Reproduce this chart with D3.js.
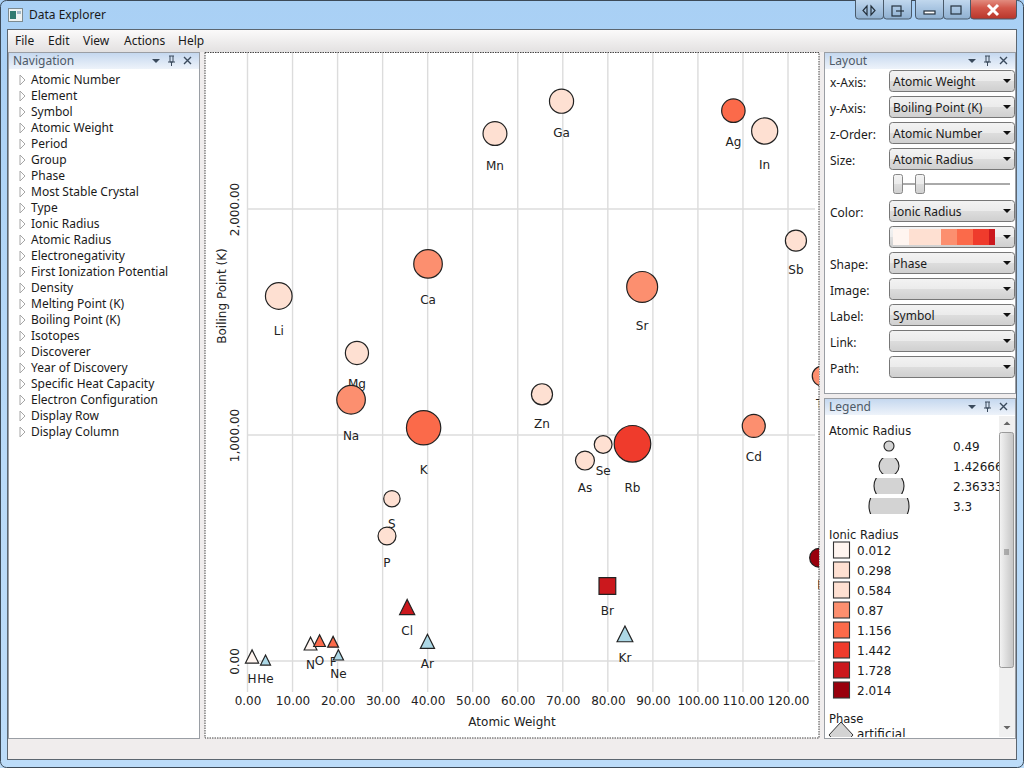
<!DOCTYPE html>
<html>
<head>
<meta charset="utf-8">
<script src="https://cdn.jsdelivr.net/npm/d3@7"></script>
<style>
html, body { margin: 0; padding: 0; background: #fff; overflow: hidden; }
svg { display: block; }
text { font-family: "DejaVu Sans", sans-serif; fill: #1a1a1a; }
.ui { font-family: "Noto Sans", sans-serif; font-size: 12px; }
.lg { font-size: 11.5px; }
.num { font-size: 12px; }
.lab { font-size: 12px; fill: #222; }
</style>
</head>
<body>
<script>
// values, in atomic number order (that is the z-order)
var symbols      = ['H','He','Li','N','O','F','Ne','Na','Mg','P','S','Cl','Ar','K','Ca','Mn','Zn','Ga','As','Se','Br','Kr','Rb','Sr','Cd','Ag','In','Sb','I','Te'];
var atomicWeight = [1.01,4.0,6.94,14.0,16.0,19.0,20.18,22.99,24.3,30.97,32.06,35.45,39.95,39.1,40.08,54.94,65.38,69.72,74.92,78.96,79.9,83.8,85.47,87.62,112.4,107.87,114.82,121.76,126.9,127.6];
var boilingPoint = [20,4,1615,77,90,85,27,1156,1363,553,718,239,87,1032,1757,2334,1180,2477,887,958,332,120,961,1655,1040,2435,2345,1860,457,1261];
var atomicRadius = [0.79,0.49,2.05,0.75,0.65,0.57,0.51,2.23,1.72,1.23,1.09,0.97,0.88,2.77,2.23,1.79,1.53,1.81,1.33,1.22,1.12,1.03,2.98,2.45,1.71,1.75,2.0,1.53,1.32,1.42];
var ionicClass   = [0.012,null,0.584,0.012,1.156,1.156,null,0.87,0.584,0.584,0.584,1.728,null,1.156,0.87,0.584,0.584,0.584,0.584,0.584,1.728,null,1.442,0.87,0.87,1.156,0.584,0.584,2.014,0.87];
var phases       = ['gas','gas','solid','gas','gas','gas','gas','solid','solid','solid','solid','gas','gas','solid','solid','solid','solid','solid','solid','solid','liquid','gas','solid','solid','solid','solid','solid','solid','solid','solid'];

var xTicks = [0,10,20,30,40,50,60,70,80,90,100,110,120];
var yTicks = [0,1000,2000];

var sizeLegend  = [0.49,1.42667,2.36333,3.3];
var sizeLabels  = ['0.49','1.426666','2.363333','3.3'];
var ionicLegend = [0.012,0.298,0.584,0.87,1.156,1.442,1.728,2.014];
var ionicColors = ['#fff5f0','#fee0d2','#fee0d2','#fc8f6f','#fb6a4a','#ef3b2c','#cb181d','#99000d'];

var menuItems = ['File','Edit','View','Actions','Help'];
var navItems = ['Atomic Number','Element','Symbol','Atomic Weight','Period','Group','Phase','Most Stable Crystal','Type','Ionic Radius','Atomic Radius','Electronegativity','First Ionization Potential','Density','Melting Point (K)','Boiling Point (K)','Isotopes','Discoverer','Year of Discovery','Specific Heat Capacity','Electron Configuration','Display Row','Display Column'];
var layoutLabels = ['x-Axis:','y-Axis:','z-Order:','Size:','Color:','','Shape:','Image:','Label:','Link:','Path:'];
var layoutValues = ['Atomic Weight','Boiling Point (K)','Atomic Number','Atomic Radius','Ionic Radius','','Phase','','Symbol','',''];
var layoutRowY   = [70,96,122,148,200,226,252,278,304,330,356];

var svg = d3.select('body').append('svg').attr('width',1024).attr('height',768);
var defs = svg.append('defs');

function grad(id, stops) {
    var g = defs.append('linearGradient').attr('id',id).attr('x1',0).attr('y1',0).attr('x2',0).attr('y2',1);
    stops.forEach(function(s){ g.append('stop').attr('offset',s[0]).attr('stop-color',s[1]); });
}
grad('gTitle',[[0,'#a9d0f5'],[0.6,'#b9daf8'],[1,'#bcdcf9']]);
grad('gMenu',[[0,'#fbfafa'],[1,'#e3e1e1']]);
grad('gHead',[[0,'#c5d8ef'],[1,'#eef3fa']]);
grad('gCombo',[[0,'#f3f3f3'],[0.5,'#ebebeb'],[0.5,'#dddddd'],[1,'#cfcfcf']]);
grad('gBtn',[[0,'#c9def2'],[0.5,'#aac6e2'],[1,'#8fb0d0']]);
grad('gClose',[[0,'#e8a093'],[0.5,'#d2574a'],[1,'#b8352a']]);
var hs = defs.append('linearGradient').attr('id','gThumb');
hs.append('stop').attr('offset',0).attr('stop-color','#f4f4f4');
hs.append('stop').attr('offset',1).attr('stop-color','#c4c4c4');

// window frame
svg.append('rect').attr('width',1024).attr('height',768).attr('fill','url(#gTitle)');
svg.append('rect').attr('x',0.5).attr('y',0.5).attr('width',1023).attr('height',767).attr('rx',6)
    .attr('fill','none').attr('stroke','#3c4a58');
svg.append('rect').attr('x',7.5).attr('y',29.5).attr('width',1009).attr('height',730)
    .attr('fill','#f0eded').attr('stroke','#5c6670');

// title bar
var icon = svg.append('g');
icon.append('rect').attr('x',8.5).attr('y',8.5).attr('width',14).attr('height',13).attr('fill','#eef2f2').attr('stroke','#7c8a90');
icon.append('rect').attr('x',10).attr('y',11).attr('width',6).attr('height',8).attr('fill','#2f7a70');
icon.append('rect').attr('x',17).attr('y',11).attr('width',4).attr('height',3).attr('fill','#9fb8c8');
svg.append('text').attr('class','ui').attr('x',29).attr('y',19).text('Data Explorer');

function winBtn(x, w, fill) {
    svg.append('rect').attr('x',x+0.5).attr('y',-3).attr('width',w).attr('height',22).attr('rx',3)
        .attr('fill',fill).attr('stroke','#4a5a6a');
}
winBtn(855,28,'url(#gBtn)'); winBtn(883,28,'url(#gBtn)');
winBtn(915,28,'url(#gBtn)'); winBtn(943,27,'url(#gBtn)'); winBtn(970,46,'url(#gClose)');
var glyph = svg.append('g').attr('fill','none').attr('stroke','#26323e').attr('stroke-width',1.2);
glyph.append('path').attr('d','M867 6 L863 10.5 L867 15 Z M871 6 L875 10.5 L871 15 Z');
glyph.append('rect').attr('x',892).attr('y',6).attr('width',9).attr('height',10);
glyph.append('path').attr('d','M896 11 H904');
glyph.append('rect').attr('x',924).attr('y',11).attr('width',11).attr('height',3).attr('fill','#fff');
glyph.append('rect').attr('x',951).attr('y',6).attr('width',10).attr('height',8);
svg.append('path').attr('d','M988 5 L998 15 M998 5 L988 15').attr('stroke','#fff').attr('stroke-width',3);

// menu
svg.append('rect').attr('x',8).attr('y',30).attr('width',1008).attr('height',22).attr('fill','url(#gMenu)');
var menuX = [15,48,83,124,178];
svg.selectAll('.menu').data(menuItems).enter().append('text')
    .attr('class','ui').attr('x',function(d,i){return menuX[i];}).attr('y',45).text(function(d){return d;});

// docked panels
function panel(x, y, w, h, title) {
    svg.append('rect').attr('x',x+0.5).attr('y',y+0.5).attr('width',w).attr('height',h)
        .attr('fill','#fff').attr('stroke','#9a9ea4');
    svg.append('rect').attr('x',x+1).attr('y',y+1).attr('width',w-1).attr('height',16).attr('fill','url(#gHead)');
    svg.append('text').attr('class','ui').attr('x',x+5).attr('y',y+13).style('fill','#4e5a68').text(title);
    var r = x + w;
    svg.append('path').attr('d','M'+(r-47)+' '+(y+7)+' h8 l-4 4 z').attr('fill','#3a4a5c');
    svg.append('path').attr('d','M'+(r-30)+' '+(y+4)+' h5 M'+(r-29)+' '+(y+4)+' v6 h3 v-6 M'+(r-31)+' '+(y+10)+' h7 M'+(r-27.5)+' '+(y+10)+' v4')
        .attr('fill','none').attr('stroke','#3a4a5c');
    svg.append('path').attr('d','M'+(r-15)+' '+(y+5)+' l7 7 M'+(r-8)+' '+(y+5)+' l-7 7')
        .attr('fill','none').attr('stroke','#3a4a5c').attr('stroke-width',1.4);
}
panel(8,52,191,686,'Navigation');
panel(824,52,191,341,'Layout');
panel(824,398,191,340,'Legend');

// navigation tree
var nav = svg.selectAll('.nav').data(navItems).enter().append('g')
    .attr('transform',function(d,i){return 'translate(0,'+(80+16*i)+')';});
nav.append('path').attr('d','M20 -5 L25 0 L20 5 Z').attr('fill','#fff').attr('stroke','#a6a6a6');
nav.append('text').attr('class','ui').attr('x',31).attr('y',4).text(function(d){return d;});

// layout panel
var rows = svg.selectAll('.row').data(layoutLabels).enter().append('g')
    .attr('transform',function(d,i){return 'translate(0,'+layoutRowY[i]+')';});
rows.append('text').attr('class','ui').attr('x',830).attr('y',17).text(function(d){return d;});
rows.append('rect').attr('x',889.5).attr('y',0.5).attr('width',125).attr('height',21).attr('rx',3)
    .attr('fill','url(#gCombo)').attr('stroke','#777');
rows.append('text').attr('class','ui').attr('x',893).attr('y',16).text(function(d,i){return layoutValues[i];});
rows.append('path').attr('d','M1003 9 h8 l-4 4 z').attr('fill','#111');

// ramp inside the colour combo (last classes run out of its width)
var rampX = d3.scaleBand().domain(d3.range(7)).range([893,1005]);
svg.selectAll('.ramp').data(ionicColors.slice(0,7)).enter().append('rect')
    .attr('x',function(d,i){return rampX(i);}).attr('y',229)
    .attr('width',function(d,i){return i==6 ? 6 : rampX.bandwidth();}).attr('height',16)
    .attr('fill',function(d){return d;});

// size slider
svg.append('line').attr('x1',900).attr('x2',1010).attr('y1',184).attr('y2',184).attr('stroke','#555');
[893,915].forEach(function(x){
    svg.append('rect').attr('x',x+0.5).attr('y',174.5).attr('width',9).attr('height',19).attr('rx',2)
        .attr('fill','url(#gCombo)').attr('stroke','#888');
});

// chart
var xScale = d3.scaleLinear().domain([0,120]).range([247.5,788]);
var yScale = d3.scaleLinear().domain([0,2000]).range([661,209]);
var rScale = d3.scaleLinear().domain([0.49,3.3]).range([5,20]);
var fillScale = d3.scaleOrdinal().domain(ionicLegend).range(ionicColors).unknown('#add8e6');

svg.append('rect').attr('x',205).attr('y',52.5).attr('width',614).attr('height',685.5)
    .attr('fill','#fff').attr('stroke','#444').attr('stroke-dasharray','1.5 1');
defs.append('clipPath').attr('id','plotClip').append('rect').attr('x',206).attr('y',53).attr('width',613).attr('height',684);
defs.append('clipPath').attr('id','legendClip').append('rect').attr('x',825).attr('y',416).attr('width',175).attr('height',321);

var chart = svg.append('g').attr('clip-path','url(#plotClip)');
chart.selectAll('.vgrid').data(xTicks).enter().append('line')
    .attr('x1',xScale).attr('x2',xScale).attr('y1',53).attr('y2',692)
    .attr('stroke','#dcdcdc').attr('stroke-width',1.4);
chart.selectAll('.hgrid').data(yTicks).enter().append('line')
    .attr('x1',248).attr('x2',815).attr('y1',yScale).attr('y2',yScale)
    .attr('stroke','#dcdcdc').attr('stroke-width',1.4);

var xAxis = d3.axisBottom(xScale).tickValues(xTicks).tickSize(0).tickFormat(d3.format('.2f'));
var xG = chart.append('g').attr('transform','translate(0,694)').call(xAxis);
xG.select('.domain').remove();
xG.selectAll('text').attr('class','lab').attr('dy','0.8em').attr('y',1);

var yG = chart.append('g').attr('transform','translate(235,0)').call(d3.axisLeft(yScale).tickValues(yTicks).tickSize(0).tickFormat(d3.format(',.2f')));
yG.select('.domain').remove();
yG.selectAll('text')
    .attr('class','lab').attr('x',0).attr('y',0).attr('dy',0)
    .attr('text-anchor','middle').attr('dominant-baseline','central')
    .attr('transform','rotate(-90)');

chart.append('text').attr('class','lab').attr('x',512).attr('y',726).attr('text-anchor','middle').text('Atomic Weight');
chart.append('text').attr('class','lab').attr('transform','translate(222,296) rotate(-90)')
    .attr('text-anchor','middle').attr('dominant-baseline','central').text('Boiling Point (K)');

var elements = symbols.map(function(s,i){
    return {sym:s, x:xScale(atomicWeight[i]), y:yScale(boilingPoint[i]), r:rScale(atomicRadius[i]),
            fill:fillScale(ionicClass[i]), phase:phases[i]};
});

function markerPath(d) {
    if (d.phase == 'gas') return 'M'+d.x+' '+(d.y-d.r)+' L'+(d.x+d.r)+' '+(d.y+d.r)+' L'+(d.x-d.r)+' '+(d.y+d.r)+' Z';
    if (d.phase == 'liquid') return 'M'+(d.x-d.r)+' '+(d.y-d.r)+' H'+(d.x+d.r)+' V'+(d.y+d.r)+' H'+(d.x-d.r)+' Z';
    return d3.arc()({innerRadius:0,outerRadius:d.r,startAngle:0,endAngle:2*Math.PI});
}

// labels go under every marker, Na covers the foot of Mg
chart.selectAll('.sym').data(elements).enter().append('text')
    .attr('class','lab').attr('text-anchor','middle').attr('dominant-baseline','central')
    .attr('x',function(d){return d.x;})
    .attr('y',function(d){return d.y + 1.85*d.r + 10;})
    .text(function(d){return d.sym;});

chart.selectAll('.mark').data(elements).enter().append('path')
    .attr('d',markerPath)
    .attr('transform',function(d){return d.phase == 'solid' ? 'translate('+d.x+','+d.y+')' : null;})
    .attr('fill',function(d){return d.fill;})
    .attr('stroke','#222').attr('stroke-width',1.2).attr('stroke-linejoin','miter');

// legend
var legend = svg.append('g').attr('clip-path','url(#legendClip)');
legend.append('text').attr('class','lg').attr('x',829).attr('y',435).text('Atomic Radius');
sizeLegend.forEach(function(v,i){
    var cy = 446 + 20*i, id = 'sz'+i;
    defs.append('clipPath').attr('id',id).append('rect').attr('x',860).attr('y',cy-8).attr('width',60).attr('height',16);
    legend.append('circle').attr('clip-path','url(#'+id+')').attr('cx',889).attr('cy',cy).attr('r',rScale(v))
        .attr('fill','#d3d3d3').attr('stroke','#222').attr('stroke-width',1.1);
    legend.append('text').attr('class','num').attr('x',953).attr('y',cy+5).text(sizeLabels[i]);
});
legend.append('text').attr('class','lg').attr('x',829).attr('y',539).text('Ionic Radius');
ionicLegend.forEach(function(v,i){
    var cy = 550 + 20*i;
    legend.append('rect').attr('x',833.5).attr('y',cy-8).attr('width',16).attr('height',16)
        .attr('fill',fillScale(v)).attr('stroke','#333').attr('stroke-width',1.1);
    legend.append('text').attr('class','num').attr('x',857).attr('y',cy+5).text(d3.format('')(v));
});
legend.append('text').attr('class','lg').attr('x',829).attr('y',723).text('Phase');
legend.append('path').attr('d','M841 722 L853 735 L841 748 L829 735 Z').attr('fill','#d3d3d3').attr('stroke','#333');
legend.append('text').attr('class','num').attr('x',857).attr('y',738).text('artificial');

// legend scrollbar
svg.append('rect').attr('x',999).attr('y',416).attr('width',16).attr('height',321).attr('fill','#f0f0f0');
svg.append('rect').attr('x',999.5).attr('y',432.5).attr('width',14).attr('height',235).attr('rx',2)
    .attr('fill','url(#gThumb)').attr('stroke','#9a9a9a');
svg.append('path').attr('d','M1004 550 h5 M1004 552 h5 M1004 554 h5').attr('stroke','#777');
svg.append('path').attr('d','M1003.5 425 h7 l-3.5 -3.5 z M1003.5 726 h7 l-3.5 3.5 z').attr('fill','#666');
</script>
</body>
</html>
